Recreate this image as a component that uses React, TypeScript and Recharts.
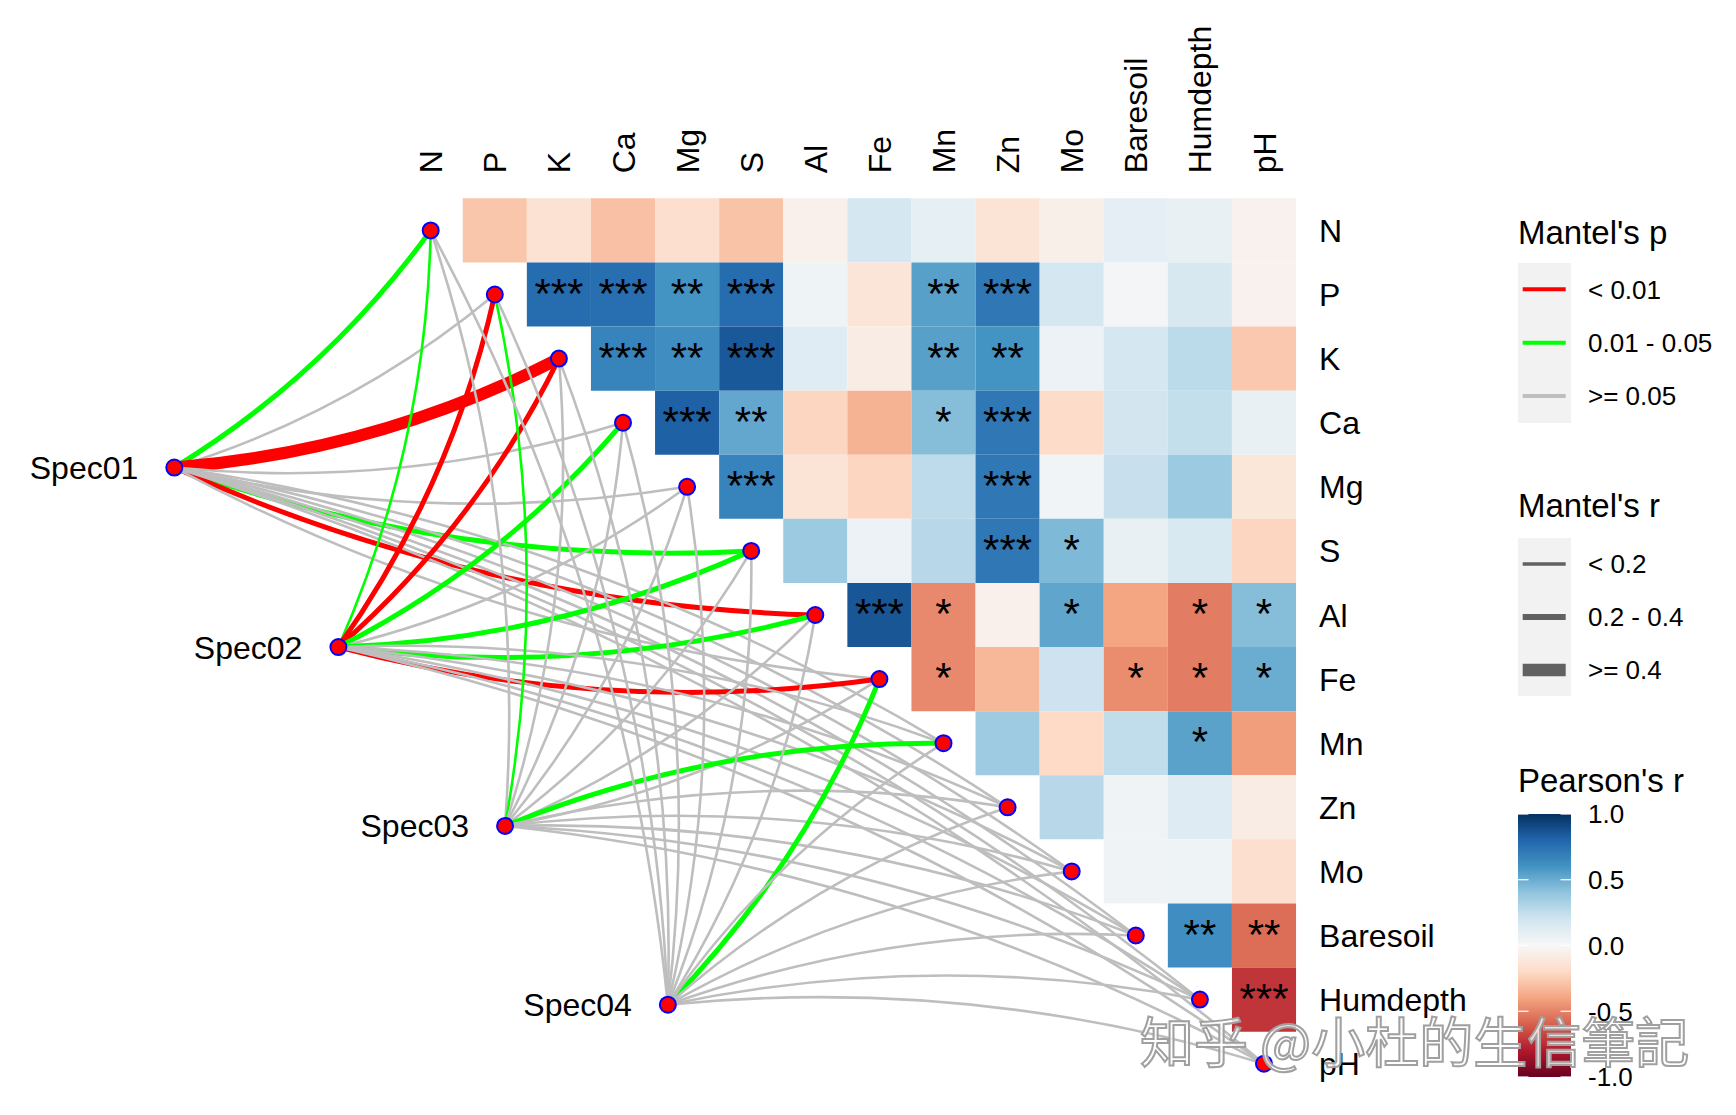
import React from 'react';
import { ComposedChart, XAxis, YAxis, ReferenceArea, ReferenceLine, Scatter } from 'recharts';

// ---------------- data ----------------
const envVars = ['N', 'P', 'K', 'Ca', 'Mg', 'S', 'Al', 'Fe', 'Mn', 'Zn', 'Mo', 'Baresoil', 'Humdepth', 'pH'];

// Pearson's r, upper triangle: each row lists the columns to the right of the diagonal
const corrN = [-0.28, -0.15, -0.3, -0.17, -0.29, -0.05, 0.18, 0.09, -0.14, -0.06, 0.1, 0.08, -0.04];
const corrP = [0.77, 0.76, 0.6, 0.77, 0.05, -0.13, 0.55, 0.72, 0.18, 0.02, 0.17, -0.04];
const corrK = [0.67, 0.62, 0.85, 0.12, -0.08, 0.55, 0.6, 0.06, 0.18, 0.27, -0.27];
const corrCa = [0.82, 0.52, -0.22, -0.35, 0.43, 0.72, -0.19, 0.19, 0.24, 0.08];
const corrMg = [0.67, -0.14, -0.22, 0.26, 0.72, 0.03, 0.23, 0.37, -0.12];
const corrS = [0.37, 0.06, 0.28, 0.72, 0.45, 0.08, 0.16, -0.22];
const corrAl = [0.86, -0.48, -0.05, 0.53, -0.4, -0.52, 0.43];
const corrFe = [-0.48, -0.33, 0.21, -0.47, -0.52, 0.5];
const corrMn = [0.36, -0.2, 0.25, 0.54, -0.42];
const corrZn = [0.28, 0.04, 0.13, -0.08];
const corrMo = [0.04, 0.05, -0.17];
const corrBaresoil = [0.62, -0.56];
const corrHumdepth = [-0.72];

const starsN = ['', '', '', '', '', '', '', '', '', '', '', '', ''];
const starsP = ['***', '***', '**', '***', '', '', '**', '***', '', '', '', ''];
const starsK = ['***', '**', '***', '', '', '**', '**', '', '', '', ''];
const starsCa = ['***', '**', '', '', '*', '***', '', '', '', ''];
const starsMg = ['***', '', '', '', '***', '', '', '', ''];
const starsS = ['', '', '', '***', '*', '', '', ''];
const starsAl = ['***', '*', '', '*', '', '*', '*'];
const starsFe = ['*', '', '', '*', '*', '*'];
const starsMn = ['', '', '', '*', ''];
const starsZn = ['', '', '', ''];
const starsMo = ['', '', ''];
const starsBaresoil = ['**', '**'];
const starsHumdepth = ['***'];

const specNames = ['Spec01', 'Spec02', 'Spec03', 'Spec04'];

const P_LOW = '< 0.01';
const P_MID = '0.01 - 0.05';
const P_HIGH = '>= 0.05';
const R_LOW = '< 0.2';
const R_MID = '0.2 - 0.4';
const R_HIGH = '>= 0.4';

// Mantel's p class, per env variable (order of envVars)
const mantelP01 = [P_MID, P_HIGH, P_LOW, P_HIGH, P_HIGH, P_MID, P_LOW, P_HIGH, P_HIGH, P_HIGH, P_HIGH, P_HIGH, P_HIGH, P_HIGH];
const mantelP02 = [P_MID, P_LOW, P_LOW, P_MID, P_HIGH, P_MID, P_MID, P_LOW, P_HIGH, P_HIGH, P_HIGH, P_HIGH, P_HIGH, P_HIGH];
const mantelP03 = [P_HIGH, P_MID, P_HIGH, P_HIGH, P_HIGH, P_HIGH, P_HIGH, P_HIGH, P_MID, P_HIGH, P_HIGH, P_HIGH, P_HIGH, P_HIGH];
const mantelP04 = [P_HIGH, P_HIGH, P_HIGH, P_HIGH, P_HIGH, P_HIGH, P_HIGH, P_MID, P_HIGH, P_HIGH, P_HIGH, P_HIGH, P_HIGH, P_HIGH];
// Mantel's r class
const mantelR01 = [R_MID, R_LOW, R_HIGH, R_LOW, R_LOW, R_MID, R_MID, R_LOW, R_LOW, R_LOW, R_LOW, R_LOW, R_LOW, R_LOW];
const mantelR02 = [R_LOW, R_MID, R_MID, R_MID, R_LOW, R_MID, R_MID, R_MID, R_LOW, R_LOW, R_LOW, R_LOW, R_LOW, R_LOW];
const mantelR03 = [R_LOW, R_LOW, R_LOW, R_LOW, R_LOW, R_LOW, R_LOW, R_LOW, R_MID, R_LOW, R_LOW, R_LOW, R_LOW, R_LOW];
const mantelR04 = [R_LOW, R_LOW, R_LOW, R_LOW, R_LOW, R_LOW, R_LOW, R_MID, R_LOW, R_LOW, R_LOW, R_LOW, R_LOW, R_LOW];

const pearsonTicks = [1.0, 0.5, 0.0, -0.5, -1.0];

// ---------------- layout / style ----------------
const W = 1736;
const H = 1115;
const CELL = 64.1;
const ORIGIN_X = 430.7;
const ORIGIN_Y = 230.4;
const X_DOMAIN: [number, number] = [-ORIGIN_X / CELL, (W - ORIGIN_X) / CELL];
const Y_DOMAIN: [number, number] = [-ORIGIN_Y / CELL, (H - ORIGIN_Y) / CELL];
const SPEC_ANCHORS = [
  { x: -4.0, y: 3.7 },
  { x: -1.44, y: 6.5 },
  { x: 1.16, y: 9.29 },
  { x: 3.7, y: 12.08 },
];
const FONT = '"Liberation Sans", Arial, Helvetica, sans-serif';
const P_COLORS: Record<string, string> = { [P_LOW]: '#FF0000', [P_MID]: '#00FF00', [P_HIGH]: '#BEBEBE' };
const R_WIDTHS: Record<string, number> = { [R_LOW]: 2.6, [R_MID]: 5, [R_HIGH]: 12 };
const R_KEY_WIDTHS: Record<string, number> = { [R_LOW]: 3.3, [R_MID]: 6, [R_HIGH]: 12.7 };

const RDBU = ['#67001F', '#B2182B', '#D6604D', '#F4A582', '#FDDBC7', '#F7F7F7', '#D1E5F0', '#92C5DE', '#4393C3', '#2166AC', '#053061'];
const hexToRgb = (h: string) => [parseInt(h.slice(1, 3), 16), parseInt(h.slice(3, 5), 16), parseInt(h.slice(5, 7), 16)];
function corrColor(v: number): string {
  const t = ((Math.max(-1, Math.min(1, v)) + 1) / 2) * 10;
  const i = Math.min(9, Math.floor(t));
  const f = t - i;
  const a = hexToRgb(RDBU[i]);
  const b = hexToRgb(RDBU[i + 1]);
  const c = a.map((x, k) => Math.round(x + (b[k] - x) * f));
  return `rgb(${c[0]},${c[1]},${c[2]})`;
}

// ---------------- derived tables ----------------
const corrRows = [corrN, corrP, corrK, corrCa, corrMg, corrS, corrAl, corrFe, corrMn, corrZn, corrMo, corrBaresoil, corrHumdepth];
const starRows = [starsN, starsP, starsK, starsCa, starsMg, starsS, starsAl, starsFe, starsMn, starsZn, starsMo, starsBaresoil, starsHumdepth];
const cells = corrRows.flatMap((row, r) =>
  row.map((v, k) => ({ row: r, col: r + 1 + k, value: v, star: starRows[r][k] }))
);
const starData = cells.filter((c) => c.star).map((c) => ({ x: c.col, y: c.row, label: c.star }));

const mantelP = [mantelP01, mantelP02, mantelP03, mantelP04];
const mantelR = [mantelR01, mantelR02, mantelR03, mantelR04];
const links = specNames.flatMap((s, si) =>
  envVars.map((e, ei) => ({ spec: si, env: ei, p: mantelP[si][ei], r: mantelR[si][ei] }))
);
const specYs = SPEC_ANCHORS.map((a) => a.y);
const specCenterY = (Math.min(...specYs) + Math.max(...specYs)) / 2;

const envNodes = envVars.map((name, i) => ({ x: i, y: i, name }));
const specNodes = specNames.map((name, i) => ({ x: SPEC_ANCHORS[i].x, y: SPEC_ANCHORS[i].y, name }));
const topLabels = envVars.map((name, i) => ({ x: i, y: -0.5, name }));
const rightLabels = envVars.map((name, i) => ({ x: envVars.length - 0.5, y: i, name }));

// ---------------- shapes ----------------
const curveShape = (sign: number, color: string, width: number) => (props: any) => {
  const { x1, y1, x2, y2 } = props;
  if ([x1, y1, x2, y2].some((v) => typeof v !== 'number' || isNaN(v))) return <g />;
  const dx = x2 - x1;
  const dy = y2 - y1;
  const c = 0.1 * sign;
  const qx = (x1 + x2) / 2 - c * dy;
  const qy = (y1 + y2) / 2 + c * dx;
  return <path d={`M${x1},${y1} Q${qx},${qy} ${x2},${y2}`} fill="none" stroke={color} strokeWidth={width} />;
};

const NodeDot = (props: any) => (
  <circle cx={props.cx} cy={props.cy} r={8} fill="#FF0000" stroke="#0000FF" strokeWidth={2} />
);

const SpecNode = (props: any) => (
  <g>
    <text x={props.cx - 36} y={props.cy + 11.5} textAnchor="end" fontFamily={FONT} fontSize={32} fill="#000">
      {props.payload.name}
    </text>
    <circle cx={props.cx} cy={props.cy} r={8} fill="#FF0000" stroke="#0000FF" strokeWidth={2} />
  </g>
);

const TopLabel = (props: any) => (
  <text
    transform={`translate(${props.cx},${props.cy - 25}) rotate(-90)`}
    x={0}
    y={11.5}
    textAnchor="start"
    fontFamily={FONT}
    fontSize={32}
    fill="#000"
  >
    {props.payload.name}
  </text>
);

const RightLabel = (props: any) => (
  <text x={props.cx + 23} y={props.cy + 11.5} textAnchor="start" fontFamily={FONT} fontSize={32} fill="#000">
    {props.payload.name}
  </text>
);

const StarText = (props: any) => (
  <text x={props.cx} y={props.cy + 13} textAnchor="middle" fontFamily={FONT} fontSize={42} fill="#000">
    {props.payload.label}
  </text>
);

// ---------------- legend ----------------
const LEG_X = 1518;
const KEY_W = 53;
const TEXT_X = 1588;

function Legends() {
  const pKeys = [P_LOW, P_MID, P_HIGH];
  const rKeys = [R_LOW, R_MID, R_HIGH];
  const pRows = [289.3, 342.7, 396];
  const rRows = [564, 617, 670];
  const barTop = 814;
  const barH = 263;
  const stops = [...RDBU].reverse();
  return (
    <svg width={W} height={H} style={{ position: 'absolute', left: 0, top: 0, pointerEvents: 'none' }}>
      <defs>
        <linearGradient id="rdbu" x1="0" y1="0" x2="0" y2="1">
          {stops.map((c, i) => (
            <stop key={i} offset={`${(i / (stops.length - 1)) * 100}%`} stopColor={c} />
          ))}
        </linearGradient>
      </defs>
      <text x={LEG_X} y={244} fontFamily={FONT} fontSize={33} fill="#000">Mantel's p</text>
      <rect x={LEG_X} y={263} width={KEY_W} height={160} fill="#F2F2F2" />
      {pKeys.map((k, i) => (
        <g key={k}>
          <line x1={LEG_X + 4.7} x2={LEG_X + 47.7} y1={pRows[i]} y2={pRows[i]} stroke={P_COLORS[k]} strokeWidth={4} />
          <text x={TEXT_X} y={pRows[i] + 9.3} fontFamily={FONT} fontSize={26} fill="#000">{k}</text>
        </g>
      ))}
      <text x={LEG_X} y={517} fontFamily={FONT} fontSize={33} fill="#000">Mantel's r</text>
      <rect x={LEG_X} y={538} width={KEY_W} height={158} fill="#F2F2F2" />
      {rKeys.map((k, i) => (
        <g key={k}>
          <line x1={LEG_X + 4.7} x2={LEG_X + 47.7} y1={rRows[i]} y2={rRows[i]} stroke="#616161" strokeWidth={R_KEY_WIDTHS[k]} />
          <text x={TEXT_X} y={rRows[i] + 9.3} fontFamily={FONT} fontSize={26} fill="#000">{k}</text>
        </g>
      ))}
      <text x={LEG_X} y={792} fontFamily={FONT} fontSize={33} fill="#000">Pearson's r</text>
      <rect x={LEG_X} y={barTop} width={KEY_W} height={barH} fill="url(#rdbu)" />
      {pearsonTicks.map((v) => {
        const y = barTop + ((1 - v) / 2) * barH;
        return (
          <g key={v}>
            <line x1={LEG_X} x2={LEG_X + 10.5} y1={y} y2={y} stroke="#fff" strokeWidth={1.2} />
            <line x1={LEG_X + KEY_W - 10.5} x2={LEG_X + KEY_W} y1={y} y2={y} stroke="#fff" strokeWidth={1.2} />
            <text x={TEXT_X} y={y + 9.3} fontFamily={FONT} fontSize={26} fill="#000">{v.toFixed(1)}</text>
          </g>
        );
      })}
      <text
        x={1140}
        y={1063}
        fontFamily='"Noto Sans CJK SC", "Noto Sans CJK TC", sans-serif'
        fontSize={54}
        fill="#ffffff"
        fillOpacity={0.8}
        stroke="#a0a0a0"
        strokeWidth={2}
      >
        知乎 @小杜的生信筆記
      </text>
    </svg>
  );
}

export default function App() {
  return (
    <div style={{ position: 'absolute', left: 0, top: 0, width: W, height: H, overflow: 'hidden', background: '#fff' }}>
      <ComposedChart width={W} height={H} margin={{ top: 0, right: 0, bottom: 0, left: 0 }}>
        <XAxis type="number" dataKey="x" domain={X_DOMAIN} hide allowDataOverflow scale="linear" />
        <YAxis type="number" dataKey="y" domain={Y_DOMAIN} reversed hide allowDataOverflow scale="linear" />
        {cells.map((c) => (
          <ReferenceArea
            key={`c-${c.row}-${c.col}`}
            x1={c.col - 0.5}
            x2={c.col + 0.5}
            y1={c.row - 0.5}
            y2={c.row + 0.5}
            fill={corrColor(c.value)}
            fillOpacity={1}
            stroke="none"
            ifOverflow="visible"
          />
        ))}
        {links.map((l) => {
          const a = SPEC_ANCHORS[l.spec];
          const sign = l.env < specCenterY ? 1 : -1;
          return (
            <ReferenceLine
              key={`l-${l.spec}-${l.env}`}
              segment={[{ x: a.x, y: a.y }, { x: l.env, y: l.env }]}
              ifOverflow="visible"
              shape={curveShape(sign, P_COLORS[l.p], R_WIDTHS[l.r])}
            />
          );
        })}
        <Scatter data={starData} shape={StarText} isAnimationActive={false} />
        <Scatter data={envNodes} shape={NodeDot} isAnimationActive={false} />
        <Scatter data={specNodes} shape={SpecNode} isAnimationActive={false} />
        <Scatter data={topLabels} shape={TopLabel} isAnimationActive={false} />
        <Scatter data={rightLabels} shape={RightLabel} isAnimationActive={false} />
      </ComposedChart>
      <Legends />
    </div>
  );
}
